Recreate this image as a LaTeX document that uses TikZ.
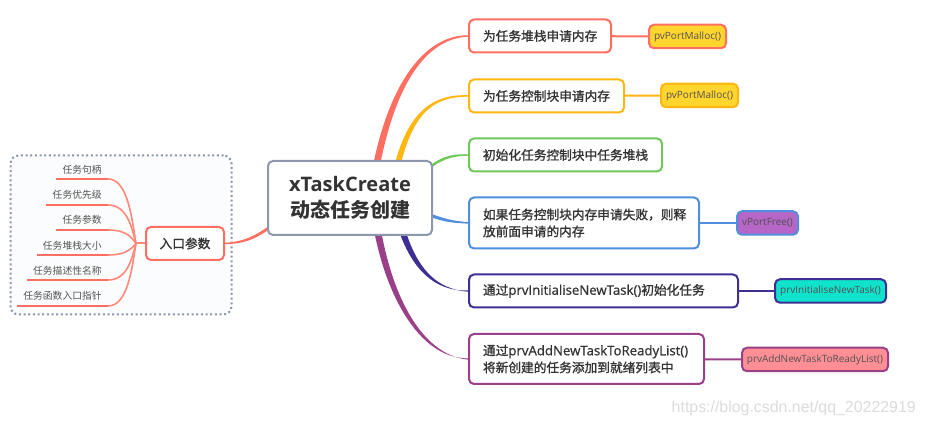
\documentclass[tikz,border=0pt]{standalone}
\usepackage{fontspec}
\setmainfont{Open Sans}
\newfontfamily\cjk{Noto Sans CJK SC}
\newfontfamily\cjkm[FakeBold=1.2]{Noto Sans CJK SC}
\newfontfamily\latm[FakeBold=0.8]{Open Sans}
\newfontfamily\wmf{Liberation Sans}
\usetikzlibrary{calc}
\pgfdeclarelayer{panel}
\pgfdeclarelayer{links}
\pgfsetlayers{panel,links,main}
\newlength\px \setlength\px{.75pt}
\definecolor{cred}{HTML}{FF6F61}
\definecolor{cyel}{HTML}{FFB60F}
\definecolor{cgrn}{HTML}{6FC75A}
\definecolor{cblu}{HTML}{4F8FDD}
\definecolor{cnav}{HTML}{3D2F94}
\definecolor{cpur}{HTML}{9A4088}
\definecolor{croot}{HTML}{8A97AD}
\definecolor{csal}{HTML}{FF8A7A}
\definecolor{txt}{HTML}{333333}
\definecolor{fyel}{HTML}{FFD52E}
\definecolor{fpur}{HTML}{B566C6}
\definecolor{ftea}{HTML}{0FE3CC}
\definecolor{fpnk}{HTML}{FF8F94}
\newcommand\fsz[2]{\fontsize{#1\px}{#2\px}\selectfont}
\newcommand\zh[1]{{\fsz{12.7}{17}\cjkm #1}}
% colour, start, control 1, control 2, end, half-width at the start, half-width at control 2
\newcommand\taper[7]{\fill[#1] ($#2+#6$) .. controls ($#3+0.85*#6$) and ($#4+#7$) .. ($#5+(0,.7)$) -- ($#5+(0,-.7)$) .. controls ($#4-#7$) and ($#3-0.85*#6$) .. ($#2-#6$) -- cycle;}
\tikzset{
  rootbox/.style={draw=croot,fill=white,line width=2\px,rounded corners=5\px,minimum width=164\px,minimum height=74\px,inner sep=0pt,outer sep=0pt,align=center,text=txt,font=\fsz{20}{26}\bfseries},
  topic/.style={draw=#1,fill=white,line width=2\px,rounded corners=5\px,inner xsep=14\px,inner ysep=0pt,outer sep=0pt,align=left,text=txt,font=\fsz{13.2}{17}\latm},
  leaf/.style 2 args={draw=#1,fill=#2,line width=2\px,rounded corners=5\px,inner sep=0pt,outer sep=0pt,minimum height=23.5\px,align=center,text=txt!85!white,font=\fsz{10}{12}},
  lab/.style={anchor=east,inner sep=0pt,text=txt!85!white,font=\fsz{9.8}{12}\cjk},
  under/.style={draw=cred,line width=2\px},
  branch/.style={draw=csal,line width=1.6\px},
  stub/.style={line width=2\px},
}
\begin{document}
\begin{tikzpicture}[x=.75pt,y=-.75pt]
\useasboundingbox (0,0) rectangle (925,427);
% nodes
\node[rootbox] (root) at (350,198) {xTaskCreate\\{\cjk 动态任务创建}};
\node[topic=cred,minimum height=33\px,text width=114\px] (b1) at (540,36) {\zh{为任务堆栈申请内存}};
\node[topic=cyel,minimum height=33\px,text width=127\px] (b2) at (546.5,96) {\zh{为任务控制块申请内存}};
\node[topic=cgrn,minimum height=33\px,text width=165\px] (b3) at (565.5,155) {\zh{初始化任务控制块中任务堆栈}};
\node[topic=cblu,minimum height=51\px,text width=202\px] (b4) at (584,223) {\zh{如果任务控制块内存申请失败，则释}\\\zh{放前面申请的内存}};
\node[topic=cnav,minimum height=33\px,text width=241\px] (b5) at (603.5,291) {\zh{通过}prvInitialiseNewTask()\zh{初始化任务}};
\node[topic=cpur,minimum height=50\px,text width=207\px] (b6) at (586.5,359) {\zh{通过}prvAddNewTaskToReadyList()\\\zh{将新创建的任务添加到就绪列表中}};
\node[leaf={cred}{fyel},minimum width=77\px] (l1) at (687.5,36.5) {pvPortMalloc()};
\node[leaf={cyel}{fyel},minimum width=77\px] (l2) at (699.5,95.5) {pvPortMalloc()};
\node[leaf={cblu}{fpur},minimum width=61\px] (l3) at (767.5,223) {vPortFree()};
\node[leaf={cnav}{ftea},minimum width=111\px] (l4) at (830.5,291) {prvInitialiseNewTask()};
\node[leaf={cpur}{fpnk},minimum width=146\px] (l5) at (815,359.5) {prvAddNewTaskToReadyList()};
\node[topic=cred,minimum height=33\px,minimum width=78\px,inner xsep=0pt,align=center] (param) at (185,243.5) {\zh{入口参数}};
\node[lab] (t1) at (102,169.5) {任务句柄};
\node[lab] (t2) at (102,194.5) {任务优先级};
\node[lab] (t3) at (102,220) {任务参数};
\node[lab] (t4) at (102,245.5) {任务堆栈大小};
\node[lab] (t5) at (102,270.5) {任务描述性名称};
\node[lab] (t6) at (102,296) {任务函数入口指针};
\node[anchor=east,inner sep=0pt,text=black!14,font=\fsz{15.9}{20}\wmf] (wm) at (916,408) {https://blog.csdn.net/qq\_20222919};
% free ends
\coordinate (hub) at (136,243.5);
\coordinate (u1) at (56,179);  \coordinate (v1) at (108,179);
\coordinate (u2) at (46,205);  \coordinate (v2) at (108,205);
\coordinate (u3) at (56,230);  \coordinate (v3) at (108,230);
\coordinate (u4) at (37,255);  \coordinate (v4) at (108,255);
\coordinate (u5) at (27,280);  \coordinate (v5) at (108,280);
\coordinate (u6) at (17,306);  \coordinate (v6) at (108,306);
\begin{pgfonlayer}{panel}
\node[draw=croot,fill=croot!3,line width=2\px,dotted,rounded corners=8\px,minimum width=221\px,minimum height=159\px,inner sep=0pt] (panel) at (121,235) {};
\end{pgfonlayer}
\begin{pgfonlayer}{links}
\taper{cred}{(root.north west)+(109,2)}{(395,75)}{(430,36)}{(b1.west)}{(3.5,0)}{(1,1.6)}
\taper{cyel}{(root.north west)+(130,2)}{(412,110)}{(435,95)}{(b2.west)}{(3,0)}{(.8,1.4)}
\taper{cgrn}{(root.north east)+(-2,6)}{(445,156)}{(455,155)}{(b3.west)}{(0,1.6)}{(0,1)}
\taper{cblu}{(root.south east)+(-2,-20)}{(445,221)}{(455,222)}{(b4.west)}{(0,1.8)}{(0,1)}
\taper{cnav}{(root.south west)+(135,-2)}{(415,268)}{(435,291)}{(b5.west)}{(3.3,0)}{(.8,-1.4)}
\taper{cpur}{(root.south west)+(110,-2)}{(392,305)}{(425,358)}{(b6.west)}{(3.5,0)}{(1,-1.6)}
\taper{cred}{(root.south west)+(2,-8)}{(252,240)}{(240,243)}{(param.east)}{(0,1.8)}{(0,1)}
\draw[stub,cred] (b1) -- (l1);
\draw[stub,cyel] (b2) -- (l2);
\draw[stub,cblu] (b4) -- (l3);
\draw[stub,cnav] (b5) -- (l4);
\draw[stub,cpur] (b6) -- (l5);
\foreach \i/\dy in {1/-24,2/-14,3/-5,4/4,5/14,6/24}{
  \draw[branch] (v\i) .. controls ($(v\i)+(20,0)$) and ($(hub)+(-4,\dy)$) .. (hub);
  \draw[under] (u\i) -- (v\i);
}
\draw[stub,csal] (hub) -- (param.west);
\end{pgfonlayer}
\end{tikzpicture}
\end{document}
